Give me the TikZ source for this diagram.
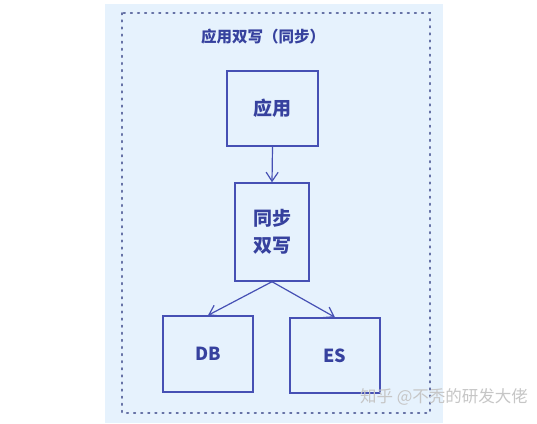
\documentclass[tikz,border=0pt]{standalone}
\usepackage{fontspec}
\newfontfamily\cjk{Noto Sans CJK SC}
\usetikzlibrary{arrows.meta}
\definecolor{bgblue}{HTML}{E6F2FD}
\definecolor{ink}{HTML}{4650B4}
\definecolor{txt}{HTML}{36419E}
\definecolor{dots}{HTML}{6672A6}
\tikzset{
  box/.style={draw=ink, line width=1.4pt, fill=none, inner sep=0pt},
  lbl/.style={font=\cjk\bfseries, text=txt},
  conn/.style={draw=ink, line width=1.2pt, -{Straight Barb[length=9pt,width=12pt,line width=1.2pt]}},
}
\begin{document}
\begin{tikzpicture}[x=1pt,y=-1pt]
\useasboundingbox (0,0) rectangle (537,423);
\fill[white] (0,0) rectangle (537,423);
\fill[bgblue] (105,4) rectangle (443,423);
\draw[dots, line width=1.6pt, dash pattern=on 1.6pt off 5.5pt, line cap=round] (122,13) rectangle (430,413);
\node[lbl, font=\cjk\bfseries\fontsize{15.5}{18}\selectfont] (title) at (263,37) {应用双写（同步）};
\node[box, minimum width=91pt, minimum height=75pt] (app) at (272.5,108.5) {};
\node[lbl, font=\cjk\bfseries\fontsize{19}{22}\selectfont] at (app.center) {应用};
\node[box, minimum width=74pt, minimum height=98pt] (sync) at (272,232) {};
\node[lbl, font=\cjk\bfseries\fontsize{19}{27}\selectfont, align=center] at (sync.center) {同步\\双写};
\node[box, minimum width=90pt, minimum height=76pt] (db) at (208,354) {};
\node[lbl, font=\cjk\bfseries\fontsize{18}{20}\selectfont] at (db.center) {DB};
\node[box, minimum width=90pt, minimum height=75pt] (es) at (335,355.5) {};
\node[lbl, font=\cjk\bfseries\fontsize{18}{20}\selectfont] at (es.center) {ES};
\draw[conn] (app.south) -- (sync.north);
\draw[conn] (sync.south) -- (db.north);
\draw[conn] (sync.south) -- (es.north);
\node[font=\cjk\fontsize{16.5}{18}\selectfont, text=gray!45] (wm) at (444,397) {知乎 @不秃的研发大佬};
\end{tikzpicture}
\end{document}
